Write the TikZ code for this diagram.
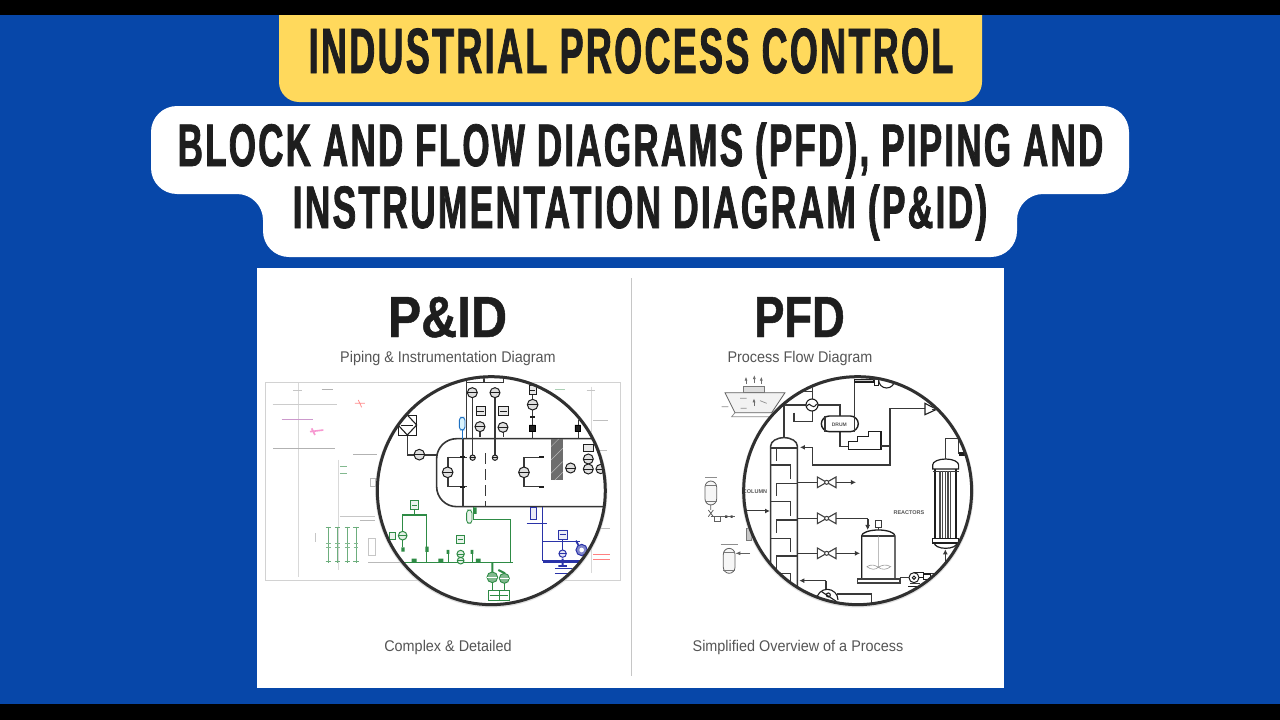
\documentclass[tikz,border=0pt]{standalone}
\usepackage{fontspec}
\setmainfont{Liberation Sans}
\newfontfamily\headA[FakeStretch=0.56,LetterSpace=3.75,FakeBold=1.3]{Liberation Sans Bold}
\newfontfamily\headB[FakeStretch=0.583,LetterSpace=3.75,FakeBold=1.3]{Liberation Sans Bold}
\newfontfamily\headC[FakeStretch=0.59,LetterSpace=3.75,FakeBold=1.3]{Liberation Sans Bold}
\newfontfamily\bigA[FakeStretch=0.86,FakeBold=.8]{Liberation Sans Bold}
\newfontfamily\bigB[FakeStretch=0.78,FakeBold=.8]{Liberation Sans Bold}
\newfontfamily\subf[FakeStretch=0.93]{Liberation Sans}
\usetikzlibrary{arrows.meta,shapes.geometric}
\definecolor{bgblue}{HTML}{0747A9}
\definecolor{hlyellow}{HTML}{FFD95C}
\definecolor{ink}{HTML}{1E1E1E}
\definecolor{sub}{HTML}{555555}
\definecolor{pgreen}{HTML}{2E8B45}
\definecolor{pblue}{HTML}{2A33A8}
\tikzset{
 headt/.style={text=ink,inner sep=0pt,anchor=base},
 bigt/.style={text=ink,inner sep=0pt,anchor=base},
 subt/.style={font=\subf\fontsize{15.5}{16}\selectfont,text=sub,inner sep=0pt,anchor=base},
 ln/.style={line width=1.2pt,draw=ink!88},
 gl/.style={line width=1.1pt,draw=pgreen},
 bl/.style={line width=1.2pt,draw=pblue},
 faint/.style={line width=.5pt,draw=gray!45},
 lens/.style={line width=3pt,draw=ink!92},
 arr/.style={-{Latex[length=5pt,width=5pt]},line width=1pt,draw=ink!88},
 small/.style={font=\bfseries\fontsize{5}{5}\selectfont,text=ink!75,inner sep=0pt},
}
\newcommand{\ins}[4][ink]{\draw[line width=1pt,draw=#1,fill=#1!14] (#2,#3) circle (#4);\draw[line width=.5pt,draw=#1] (#2-#4,#3)--(#2+#4,#3);}
\newcommand{\tagbox}[3][ink]{\draw[line width=.8pt,draw=#1,fill=#1!10] (#2-11,#3-14) rectangle (#2+11,#3+14);\draw[line width=.5pt,draw=#1] (#2-8,#3)--(#2+8,#3);}
\newcommand{\blk}[3][ink]{\fill[#1] (#2-8,#3-3) rectangle (#2+8,#3+3);}
\newcommand{\valve}[2]{\draw[line width=1.1pt,draw=ink!85,fill=white] (#1-28,#2-16)--(#1+28,#2+16)--(#1+28,#2-16)--(#1-28,#2+16)--cycle;\draw[line width=1pt,draw=ink!85,fill=white] (#1,#2) circle (6);}
\begin{document}
\begin{tikzpicture}[x=1pt,y=-1pt]
\useasboundingbox (0,0) rectangle (1280,720);
\fill[bgblue] (0,0) rectangle (1280,720);
% title plates
\fill[hlyellow,rounded corners=20pt] (279,-10) rectangle (982,102);
\fill[white,rounded corners=26pt] (151,106)--(1129,106)--(1129,194)--(1017,194)--(1017,257)--(263,257)--(263,194)--(151,194)--cycle;
\fill[black] (0,0) rectangle (1280,15);
\fill[black] (0,704) rectangle (1280,720);
\node[headt,font=\headA\fontsize{64}{64}\selectfont] (t1) at (631,73) {INDUSTRIAL PROCESS CONTROL};
\node[headt,font=\headB\fontsize{60}{60}\selectfont] (t2) at (640.5,166) {BLOCK AND FLOW DIAGRAMS (PFD), PIPING AND};
\node[headt,font=\headC\fontsize{60}{60}\selectfont] (t3) at (640,228) {INSTRUMENTATION DIAGRAM (P\&ID)};
% white panel
\fill[white] (257,268) rectangle (1004,688);
\draw[line width=.8pt,draw=gray!45] (631,278)--(631,676);
\node[bigt,font=\bigA\fontsize{58}{58}\selectfont] (a) at (447.5,337) {P\&ID};
\node[subt] at (448,362.5) {Piping \& Instrumentation Diagram};
\node[subt] at (448,651) {Complex \& Detailed};
\node[bigt,font=\bigB\fontsize{58}{58}\selectfont] (b) at (799.5,337) {PFD};
\node[subt] at (800,362.5) {Process Flow Diagram};
\node[subt] at (798,651) {Simplified Overview of a Process};
%%%%% LEFT
\begin{scope}[shift={(260,370)},x=.3333pt,y=-.3333pt]
\draw[faint,draw=gray!35,line width=.7pt] (15,38) rectangle (1082,630);
\draw[faint,draw=gray!30] (115,40)--(115,620) (235,270)--(235,600) (995,50)--(995,610);
\draw[faint] (100,60)--(125,60) (980,60)--(1005,60);
\draw[line width=1.2pt,draw=gray!60] (185,58)--(220,58);
\draw[line width=.7pt,draw=gray!40] (38,102)--(230,102);
\draw[line width=.8pt,draw=red!45] (285,100)--(315,100) (295,90)--(305,112);
\draw[line width=.8pt,draw=violet!40] (65,148)--(160,148);
\draw[line width=1.6pt,draw=magenta!40] (155,175)--(165,195) (150,185)--(190,180);
\draw[line width=1pt,draw=gray!60] (40,235)--(225,235);
\draw[line width=1pt,draw=gray!60] (280,255)--(350,255);
\draw[line width=.7pt,draw=pgreen!60] (240,290)--(262,290) (240,310)--(262,310);
\draw[faint] (240,438)--(345,438) (165,490)--(165,515) (325,505) rectangle (345,555);
\draw[line width=.7pt,draw=gray!55] (325,578)--(470,578) (330,325) rectangle (345,350) (300,450)--(345,450);
\foreach \x in {205,233,262,288}{
 \draw[line width=.8pt,draw=pgreen!70] (\x,470)--(\x,580);
 \draw[line width=1.4pt,draw=pgreen!70] (\x-8,473)--(\x+8,473) (\x-8,575)--(\x+8,575);
 \draw[line width=.6pt,draw=pgreen!60] (\x-7,520)--(\x+7,520) (\x-7,532)--(\x+7,532);}
\draw[line width=.7pt,draw=red!50] (1000,552)--(1050,552) (1000,567)--(1050,567);
\draw[line width=.7pt,draw=gray!50] (1000,150)--(1045,150) (1000,240)--(1040,240) (1005,475)--(1050,475);
\draw[line width=.7pt,draw=pgreen!40] (885,58)--(915,58);
% inside lens
\begin{scope}
\fill[white] (694,362) circle (342);
\clip (694,362) circle (342);
% vessel
\draw[line width=1.6pt,draw=ink!90] (1040,206)--(590,206) arc[start angle=-90,end angle=-180,radius=60] -- (530,350) arc[start angle=180,end angle=90,radius=60] -- (1040,410);
\fill[ink!65] (873,207) rectangle (908,330);
\draw[ink!30,line width=.5pt] (873,230)--(896,207) (873,270)--(908,235) (873,310)--(908,275) (885,330)--(908,307);
\draw[ln,dash pattern=on 11pt off 5pt] (677,250)--(677,410);
% instrument lines
\draw[ln] (620,20)--(620,206) (672,20)--(672,38) (620,38)--(672,38) (637,68)--(637,262) (705,68)--(705,262) (730,20)--(730,38)--(672,38);
\draw[ln] (609,206)--(609,410) (564,260)--(564,350)--(620,350) (564,262)--(620,262);
\draw[ln] (792,262)--(792,350)--(850,350) (792,262)--(850,262);
\draw[ln] (818,20)--(818,206);
\draw[ln] (955,150)--(955,206);
\draw[ln] (442,195)--(442,255)--(478,255) (495,255)--(530,255);
\draw[ln] (660,170)--(660,200) (730,170)--(730,200);
\ins{637}{68}{15} \ins{705}{68}{15} \ins{818}{104}{16}
\ins{478}{254}{16} \ins{660}{170}{15} \ins{729}{172}{15}
\ins{563}{307}{16} \ins{792}{307}{16} \ins{638}{263}{8} \ins{705}{263}{8}
\ins{985}{267}{15} \ins{985}{297}{15} \ins{932}{294}{15} \ins{1022}{297}{14}
\draw[line width=.8pt,draw=ink,fill=ink!10] (648,110) rectangle (676,136) (716,110) rectangle (744,136);
\draw[line width=.5pt,draw=ink] (652,123)--(672,123) (720,123)--(740,123);
\tagbox{818}{60}
\draw[line width=.8pt,draw=ink,fill=ink!10] (970,222) rectangle (1000,243);
\blk{818}{142} \blk{607}{262} \blk{607}{350} \blk{845}{262} \blk{845}{350}
\draw[fill=ink] (808,165) rectangle (826,185) (945,165) rectangle (962,185);
\draw[line width=1.1pt,draw=ink,fill=white] (442,135)--(470,165)--(442,195)--(414,165)--cycle;
\draw[line width=.9pt,draw=ink] (414,135) rectangle (470,195);
\draw[line width=.6pt,draw=ink] (424,165)--(460,165);
\draw[line width=.9pt,draw=pblue!70!cyan,fill=cyan!15,rounded corners=3pt] (598,142) rectangle (615,180);
\draw[line width=.8pt,draw=pblue!70!cyan] (607,180)--(607,206);
% green
\draw[gl] (463,420)--(463,435) (428,532)--(428,435)--(500,435)--(500,580);
\draw[gl] (330,578)--(760,578) (640,448)--(752,448)--(752,578) (640,410)--(640,448);
\draw[gl] (602,578)--(602,545) (565,578)--(565,545) (637,578)--(637,545);
\draw[line width=.8pt,draw=pgreen,fill=pgreen!10] (452,392) rectangle (474,418) (590,495) rectangle (614,520);
\draw[line width=.8pt,draw=pgreen] (685,662) rectangle (717,692) (717,662) rectangle (748,692);
\draw[line width=.5pt,draw=pgreen] (689,677)--(744,677) (594,508)--(610,508) (456,405)--(470,405);
\ins[pgreen]{428}{497}{13} \ins[pgreen]{602}{552}{11} \ins[pgreen]{602}{572}{10}
\draw[line width=.8pt,draw=pgreen,fill=pgreen!10] (388,488) rectangle (405,508);
\draw[line width=.8pt,draw=pgreen,fill=pgreen!10,rounded corners=3pt] (620,420) rectangle (636,460);
\fill[pgreen] (640,412) rectangle (650,432) (424,532) rectangle (434,545) (496,530) rectangle (506,546) (455,566) rectangle (470,578) (535,566) rectangle (550,578) (648,566) rectangle (662,578) (560,540) rectangle (568,552) (632,540) rectangle (640,552);
\draw[line width=.9pt,draw=pgreen,fill=pgreen!60] (697,622) circle (16) (733,625) circle (15);
\draw[line width=1.1pt,draw=white] (682,622)--(712,622) (719,625)--(747,625);
\draw[gl,line width=2pt] (697,578)--(697,606) (715,600)--(735,610);
\draw[gl] (697,638)--(697,662) (733,640)--(733,662);
% blue
\draw[bl] (848,410)--(848,574) (848,515)--(960,515) (908,505)--(908,550) (908,566)--(908,590);
\draw[bl,line width=2.6pt] (848,575)--(985,575);
\draw[line width=.8pt,draw=pblue,fill=pblue!10] (895,480) rectangle (923,508) (812,412) rectangle (830,448);
\draw[line width=.5pt,draw=pblue] (899,494)--(919,494);
\ins[pblue]{908}{551}{11}
\draw[line width=1pt,draw=pblue,fill=pblue!60] (965,540) circle (17);
\fill[white] (965,540) circle (7);
\draw[bl,line width=1.8pt] (908,566)--(908,588) (895,588)--(921,588) (948,512)--(955,525);
\draw[bl,line width=1pt] (800,462)--(860,462) (885,595)--(935,595) (885,610)--(935,610);
\end{scope}
\draw[line width=3pt,draw=gray!40,opacity=.6] (694,364) circle (344);
\draw[lens] (694,362) circle (342);
\end{scope}
%%%%% RIGHT
\begin{scope}[shift={(690,370)},x=.3333pt,y=-.3333pt]
% outside elements
\draw[line width=.8pt,draw=ink!70,fill=ink!6] (105,68)--(285,68)--(245,128)--(135,128)--cycle;
\draw[line width=.8pt,draw=ink!60,fill=ink!15] (160,50) rectangle (222,66);
\draw[line width=.7pt,draw=ink!50] (135,128)--(125,140)--(255,140);
\draw[-{Latex[length=4pt,width=3pt]},line width=.7pt,draw=ink!65] (168,42)--(168,20);
\draw[-{Latex[length=4pt,width=3pt]},line width=.7pt,draw=ink!65] (193,40)--(193,15);
\draw[-{Latex[length=4pt,width=3pt]},line width=.7pt,draw=ink!65] (214,42)--(214,20);
\draw[-{Latex[length=4pt,width=3pt]},line width=.7pt,draw=ink!65] (192,108)--(192,85);
\draw[line width=.7pt,draw=ink!50] (150,85)--(170,85) (152,115)--(170,115) (210,92)--(230,100) (95,110)--(115,110);
% column feed tank
\draw[line width=.8pt,draw=ink!70,fill=ink!4,rounded corners=6pt] (45,333) rectangle (80,405);
\draw[line width=.6pt,draw=ink!60] (45,345)--(80,345) (45,395)--(80,395);
\draw[line width=.6pt,draw=ink!50] (45,323)--(80,323);
\draw[line width=.8pt,draw=ink!70] (62,405)--(62,420) (55,420)--(70,440) (70,420)--(55,440);
\draw[line width=.8pt,draw=ink!70] (72,440) rectangle (90,455) (62,440)--(72,440) (90,440)--(135,440);
\fill[ink!80] (105,436) rectangle (112,444) (122,436) rectangle (128,444);
\draw[line width=.8pt,draw=ink!70,fill=ink!4,rounded corners=6pt] (100,535) rectangle (135,610);
\draw[line width=.6pt,draw=ink!60] (100,547)--(135,547) (100,600)--(135,600);
\draw[line width=.6pt,draw=ink!50] (92,523)--(145,523);
\draw[-{Latex[length=5pt,width=4pt]},line width=.8pt,draw=ink!70] (180,550)--(136,550);
\draw[line width=.8pt,draw=ink!60,fill=ink!25] (168,475) rectangle (183,512);
% lens contents
\begin{scope}
\fill[white] (503,362) circle (342);
\clip (503,362) circle (342);
% column
\draw[ln,line width=1.5pt] (242,720)--(242,228) arc[start angle=180,end angle=360,x radius=40,y radius=25] -- (322,720);
\draw[ln] (242,234)--(322,234);
\draw[ln] (282,203)--(282,105);
\foreach \y in {285,395,505,610}{\draw[ln,line width=1.4pt] (242,\y)--(302,\y)--(302,\y+42);}
\foreach \y in {235,340,450,558}{\draw[ln,line width=1.4pt] (322,\y)--(260,\y)--(260,\y+38);}
% top pipes
\draw[ln] (282,105)--(165,105) (282,105)--(352,105);
\draw[ln] (165,65)--(368,65) (368,50)--(368,95);
\draw[ln] (312,128)--(312,155)--(368,155)--(368,122);
\draw[ln] (380,105)--(450,105)--(450,138) (450,185)--(450,230)--(475,230);
\draw[line width=1.1pt,draw=ink,fill=white] (366,105) circle (18);
\draw[line width=1pt,draw=ink] (352,108) .. controls (360,90) and (366,125) .. (380,102);
\draw[line width=1.4pt,draw=ink,fill=white,rounded corners=8pt] (394,138) rectangle (505,185);
\draw[ln] (405,138)--(405,185) (493,138)--(493,185);
\node[small] (drum) at (448,163) {DRUM};
\draw[ln] (493,32)--(493,138);
\draw[line width=1.4pt,draw=ink,fill=ink!25] (493,28) rectangle (552,36);
\draw[line width=1pt,draw=ink,fill=white] (554,28) rectangle (566,46);
\draw[line width=1.1pt,draw=ink] (566,30) arc[start angle=180,end angle=0,radius=24] (614,30)--(640,30);
% staircase
\draw[line width=1.3pt,draw=ink] (475,238)--(475,215)--(503,215)--(503,200)--(535,200)--(535,184)--(573,184)--(573,238)--cycle;
\draw[ln] (573,228)--(600,228);
\draw[ln] (600,115)--(600,285)--(368,285)--(368,232);
\draw[ln] (600,115)--(705,115);
\draw[arr] (368,232)--(330,232);
\draw[line width=1.1pt,draw=ink,fill=white] (705,100)--(740,118)--(705,134)--cycle;
\draw[ln] (725,118)--(760,118);
% side streams
\draw[arr] (322,337)--(498,337); \valve{410}{337}
\draw[ln] (322,445)--(533,445); \draw[arr] (533,445)--(533,480); \valve{410}{445}
\draw[arr] (322,550)--(510,550); \valve{410}{550}
\draw[arr] (162,423)--(240,423);
\draw[ln,line width=2pt] (533,448)--(533,475);
% reactor vessel
\draw[line width=1.3pt,draw=ink] (515,625)--(515,498) arc[start angle=180,end angle=360,x radius=50,y radius=18] -- (615,625);
\draw[ln] (515,498)--(615,498);
\draw[line width=1.2pt,draw=ink!85] (502,627) rectangle (630,639);
\draw[ln] (557,451) rectangle (574,472); \draw[ln] (565,472)--(565,480);
\draw[line width=.6pt,draw=ink!45] (565,498)--(565,590) (530,590) .. controls (545,582) and (555,585) .. (565,592) .. controls (575,585) and (590,582) .. (602,590) .. controls (590,600) and (575,600) .. (565,592) .. controls (555,600) and (545,600) .. (530,590);
% shell and tube
\draw[line width=1.2pt,draw=ink] (735,297)--(735,505) (798,297)--(798,505);
\draw[line width=1.2pt,draw=ink] (728,285) arc[start angle=180,end angle=360,x radius=39,y radius=18] -- (806,297) -- (728,297) -- cycle;
\draw[line width=1.2pt,draw=ink] (728,505) rectangle (806,519);
\draw[line width=1.2pt,draw=ink] (733,519) arc[start angle=180,end angle=0,x radius=34,y radius=16];
\draw[ln] (728,304)--(806,304);
\foreach \x in {750,758,766,774,782}{\draw[line width=1.3pt,draw=ink!80] (\x,304)--(\x,505);}
\draw[ln] (766,268)--(766,205)--(805,205)--(805,250)--(826,250);
\draw[arr,line width=1.2pt] (766,600)--(766,538);
\draw[ln] (766,600)--(766,610)--(720,610);
\fill[ink] (808,245) rectangle (828,257);
% pump
\draw[line width=1pt,draw=ink,fill=white] (672,623) circle (15);
\draw[line width=1pt,draw=ink] (672,623) circle (5);
\draw[line width=1pt,draw=ink] (655,650)--(700,650) (672,608)--(700,608)--(700,622)--(687,622);
\draw[ln] (630,623)--(657,623);
\draw[line width=1.2pt,draw=ink] (700,612) rectangle (722,628);
\draw[ln] (660,640)--(690,640);
% bottom
\draw[ln] (408,632)--(408,660);
\draw[arr] (408,632)--(328,632);
\draw[line width=1.1pt,draw=ink] (380,690) arc[start angle=180,end angle=360,radius=32];
\draw[line width=1.1pt,draw=ink] (395,665)--(440,695) (415,675) circle (6);
\draw[ln] (440,672)--(545,672)--(545,720);
\node[small,font=\bfseries\fontsize{5.5}{5.5}\selectfont] (col) at (195,364) {COLUMN};
\node[small,font=\bfseries\fontsize{5.5}{5.5}\selectfont] (rea) at (657,427) {REACTORS};
\end{scope}
\draw[line width=3pt,draw=gray!40,opacity=.6] (503,364) circle (344);
\draw[lens] (503,362) circle (342);
\end{scope}
\end{tikzpicture}
\end{document}
